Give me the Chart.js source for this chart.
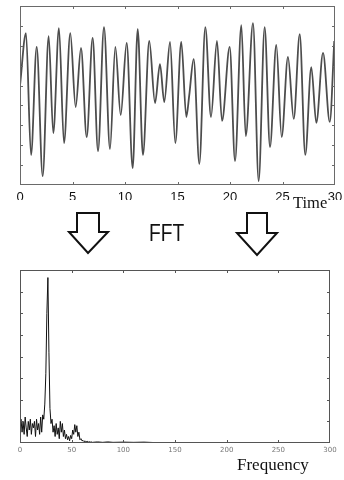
<!DOCTYPE html>
<html>
<head>
<meta charset="utf-8">
<script src="https://cdn.jsdelivr.net/npm/chart.js@4/dist/chart.umd.min.js"></script>
<style>
  body { margin: 0; background: #fff; width: 344px; height: 480px; overflow: hidden; position: relative; }
  .box { position: absolute; left: 0; width: 344px; }
  #topBox { top: 0; height: 200px; }
  #botBox { top: 262px; height: 200px; }
  .lbl { position: absolute; font-family: "Liberation Serif", serif; color: #111; white-space: nowrap; }
  #fft { position: absolute; left: 149px; top: 219px; font-family: "Liberation Sans", sans-serif; font-size: 24px; color: #111;
         transform: scaleX(0.8); transform-origin: left top; }
  svg { position: absolute; left: 0; top: 0; }
</style>
</head>
<body>
<div class="box" id="topBox"><canvas id="timeChart"></canvas></div>
<div class="box" id="botBox"><canvas id="freqChart"></canvas></div>
<svg width="344" height="480">
  <polygon points="77,213 99,213 99,232 108,232 88,253 69,232 77,232" fill="#fff" stroke="#111" stroke-width="2"/>
  <polygon points="247,213 267,213 267,233 277,233 257,255 237,233 247,233" fill="#fff" stroke="#111" stroke-width="2"/>
</svg>
<div id="fft">FFT</div>
<div class="lbl" style="left:293px; top:193px; font-size:16.5px;">Time</div>
<div class="lbl" style="left:237px; top:455px; font-size:17px;">Frequency</div>

<script>
// time signal - peaks and troughs
var timeT = [0, 0.57, 1.05, 1.59, 2.16, 2.73, 3.17, 3.71, 4.19, 4.79, 5.30, 5.81, 6.35, 6.92, 7.43, 8.0, 8.57, 9.08, 9.59, 10.16,
  10.73, 11.21, 11.71, 12.31, 12.86, 13.33, 13.74, 14.29, 14.79, 15.36, 15.84, 16.12, 16.54, 17.08, 17.65, 18.19, 18.76, 19.24, 19.97,
  20.48, 21.08, 21.50, 22.19, 22.73, 23.30, 23.81, 24.41, 24.92, 25.52, 26.07, 26.64, 27.17, 27.74, 28.22, 28.86, 29.50, 29.93];
var timeV = [5.0, 7.64, 1.51, 6.94, 0.45, 7.49, 2.61, 7.89, 2.11, 7.64, 3.92, 6.89, 2.41, 7.39, 1.71, 7.94, 1.81, 6.94, 3.52, 7.14,
  0.85, 7.84, 1.51, 7.24, 4.12, 6.08, 4.17, 7.19, 2.11, 7.19, 3.42, 4.52, 6.33, 1.06, 7.94, 3.42, 7.24, 3.22, 6.94,
  1.21, 8.04, 2.46, 8.14, 0.20, 7.94, 1.91, 7.04, 2.41, 6.44, 3.32, 7.59, 1.51, 5.93, 3.12, 6.64, 3.17, 7.24];
var timeTicks = [0, 5, 10, 15, 20, 25, 30];

// spectrum
var freqF = [0, 1, 2, 3, 4, 5, 6, 7, 8, 9, 10, 11, 12, 13, 14, 15, 16, 17, 18, 19, 20, 21, 22, 23, 24, 25, 26, 27, 28, 29,
  30, 31, 32, 33, 34, 35, 36, 37, 38, 39, 40, 41, 42, 43, 44, 45, 46, 47, 48, 49, 50, 51, 52, 53, 54, 55, 56, 57, 58, 59,
  60, 61, 62, 63, 64, 65, 66, 67, 68, 69, 70, 75, 80, 85, 90, 100, 110, 120, 130, 150, 200, 250, 300];
var freqA = [0.7, 1.1, 0.5, 1.0, 0.4, 1.2, 0.7, 0.3, 1.0, 0.6, 1.1, 0.4, 0.9, 0.7, 1.0, 0.3, 1.1, 0.6, 0.9, 0.4, 1.2, 0.5, 1.3, 1.1, 1.8, 3.2, 6.0, 7.65, 4.2, 1.6,
  0.9, 1.1, 0.5, 0.8, 0.3, 0.9, 0.4, 0.7, 0.2, 1.0, 0.5, 0.9, 0.3, 0.6, 0.2, 0.4, 0.15, 0.3, 0.1, 0.35, 0.2, 0.6, 0.4, 0.85, 0.5, 0.8, 0.3, 0.5, 0.15, 0.2,
  0.1, 0.12, 0.06, 0.1, 0.05, 0.08, 0.04, 0.06, 0.04, 0.05, 0.03, 0.05, 0.03, 0.05, 0.03, 0.04, 0.03, 0.04, 0.02, 0.02, 0.01, 0.01, 0.01];
var freqTicks = [0, 50, 100, 150, 200, 250, 300];

function toPoints(xs, ys) {
  var pts = [];
  for (var i = 0; i < xs.length; i++) pts.push({ x: xs[i], y: ys[i] });
  return pts;
}

// box around the plot + little inward tick marks on all 4 sides
var frameTicks = {
  id: "frameTicks",
  afterDraw: function(chart, args, opts) {
    var c = chart.ctx, a = chart.chartArea;
    var xs = chart.scales.x, ys = chart.scales.y;
    var len = opts.len || 4;
    c.save();
    c.strokeStyle = opts.color || "#666";
    c.lineWidth = 1;
    c.strokeRect(a.left + 0.5, a.top + 0.5, a.right - a.left - 1, a.bottom - a.top - 1);
    c.beginPath();
    xs.ticks.forEach(function(t) {
      if (t.value <= xs.min || t.value >= xs.max) return;
      var px = Math.round(xs.getPixelForValue(t.value)) + 0.5;
      c.moveTo(px, a.top); c.lineTo(px, a.top + len);
      c.moveTo(px, a.bottom); c.lineTo(px, a.bottom - len);
    });
    ys.ticks.forEach(function(t) {
      if (t.value <= ys.min || t.value >= ys.max) return;
      var py = Math.round(ys.getPixelForValue(t.value)) + 0.5;
      c.moveTo(a.left, py); c.lineTo(a.left + len, py);
      c.moveTo(a.right, py); c.lineTo(a.right - len, py);
    });
    c.stroke();
    c.restore();
  }
};

// don't let the end labels push the plot edges in
function fixX(h) {
  return function(s) { s.height = h; s.paddingLeft = 0; s.paddingRight = 0; };
}

new Chart(document.getElementById("timeChart"), {
  type: "line",
  data: {
    datasets: [{
      data: toPoints(timeT, timeV),
      borderColor: "#4d4d4d",
      borderWidth: 1.8,
      pointRadius: 0,
      fill: false,
      cubicInterpolationMode: "monotone"
    }]
  },
  options: {
    responsive: true,
    maintainAspectRatio: false,
    animation: false,
    layout: { padding: { left: 20, right: 9, top: 6, bottom: 0 } },
    plugins: { legend: { display: false }, tooltip: { enabled: false }, frameTicks: { color: "#6a6a6a", len: 3 } },
    scales: {
      x: {
        type: "linear", min: 0, max: 30,
        afterBuildTicks: function(s) { s.ticks = timeTicks.map(function(v) { return { value: v }; }); },
        grid: { display: false, drawTicks: false },
        border: { display: false },
        ticks: { padding: 5, color: "#111", font: { family: "Liberation Sans", size: 13 }, maxRotation: 0 },
        afterFit: fixX(15)
      },
      y: {
        min: 0, max: 9,
        display: false,
        ticks: { stepSize: 1 }
      }
    }
  },
  plugins: [frameTicks]
});

new Chart(document.getElementById("freqChart"), {
  type: "line",
  data: {
    datasets: [{
      data: toPoints(freqF, freqA),
      borderColor: "#111",
      borderWidth: 1,
      pointRadius: 0,
      fill: false,
      tension: 0
    }]
  },
  options: {
    responsive: true,
    maintainAspectRatio: false,
    animation: false,
    layout: { padding: { left: 20, right: 14, top: 8, bottom: 0 } },
    plugins: { legend: { display: false }, tooltip: { enabled: false }, frameTicks: { color: "#555", len: 3 } },
    scales: {
      x: {
        type: "linear", min: 0, max: 300,
        afterBuildTicks: function(s) { s.ticks = freqTicks.map(function(v) { return { value: v }; }); },
        grid: { display: false, drawTicks: false },
        border: { display: false },
        ticks: { padding: 3, color: "#777", font: { family: "DejaVu Sans", size: 7 }, maxRotation: 0 },
        afterFit: fixX(19)
      },
      y: {
        min: 0, max: 8,
        display: false,
        ticks: { stepSize: 1 }
      }
    }
  },
  plugins: [frameTicks]
});
</script>
</body>
</html>
